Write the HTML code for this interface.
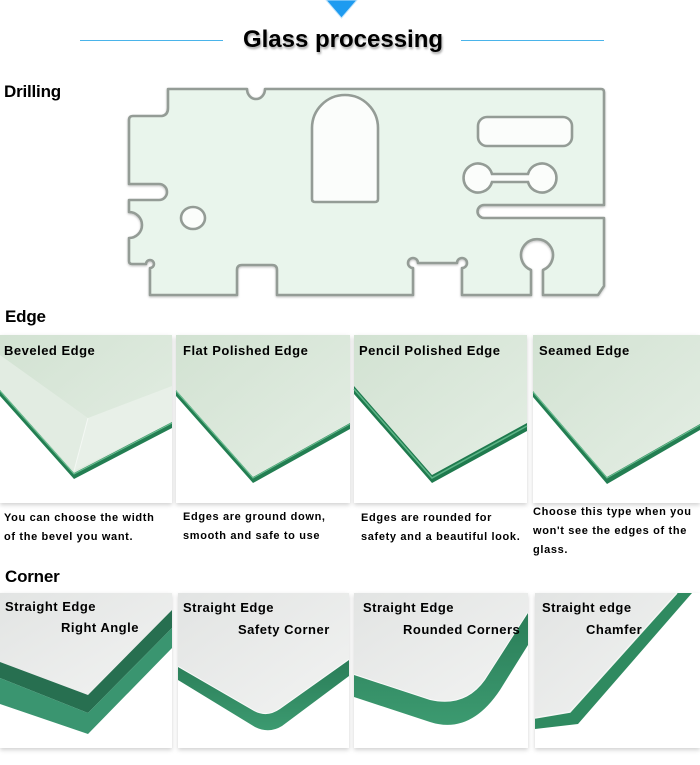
<!DOCTYPE html>
<html><head><meta charset="utf-8"><style>
html,body{margin:0;padding:0;background:#fff;}
body{width:700px;height:765px;position:relative;overflow:hidden;font-family:"Liberation Sans",Arial,sans-serif;}
svg{position:absolute;left:0;top:0;}
.t{position:absolute;white-space:nowrap;color:#000;font-weight:bold;}
.h{font-size:17px;letter-spacing:-0.2px;}
.p{font-size:13px;letter-spacing:0.5px;line-height:13px;}
.d{font-size:11px;letter-spacing:0.65px;line-height:19px;}
</style></head><body>
<svg width="700" height="765" viewBox="0 0 700 765" xmlns="http://www.w3.org/2000/svg">
<defs>
<linearGradient id="eg" x1="0" y1="0" x2="1" y2="1">
<stop offset="0" stop-color="#d2e2d2"/><stop offset="1" stop-color="#e4eee4"/></linearGradient>
<linearGradient id="cg" x1="0" y1="0" x2="1" y2="1">
<stop offset="0" stop-color="#e2e4e3"/><stop offset="1" stop-color="#f2f3f2"/></linearGradient>
<linearGradient id="bd" x1="0" y1="0" x2="0" y2="1">
<stop offset="0" stop-color="#2a7d58"/><stop offset="1" stop-color="#3c9a70"/></linearGradient>
<filter id="sh" x="-5%" y="-5%" width="110%" height="115%"><feDropShadow dx="0" dy="2" stdDeviation="2" flood-color="#000" flood-opacity="0.18"/></filter>
<filter id="ps" x="-5%" y="-5%" width="110%" height="110%"><feDropShadow dx="0" dy="1" stdDeviation="1" flood-color="#000" flood-opacity="0.25"/></filter>
</defs>

<!-- header -->
<polygon points="326,0 357,0 341.5,18" fill="#1e9bf0" stroke="#bfe3fb" stroke-width="1"/>
<line x1="80" y1="40.5" x2="223" y2="40.5" stroke="#4ab4ea" stroke-width="1"/>
<line x1="461" y1="40.5" x2="604" y2="40.5" stroke="#4ab4ea" stroke-width="1"/>

<!-- drilling plate -->
<g filter="url(#ps)">
<path d="M168,89 L247,89 A9 10 0 0 0 265,89 L601,89 Q604,89 604,92 L604,205 L484,205 A6.5 6.5 0 0 0 484,218 L604,218 L604,286 L598,295 L543,295 L543,270 A16 16 0 1 0 531,270 L531,295 L462,295 L462,268 A5 5 0 1 0 457,263 L418,263 A5 5 0 1 0 413,268 L413,295 L277,295 L277,270 Q277,265 272,265 L242,265 Q237,265 237,270 L237,295 L150,295 L150,268 A4 4 0 1 0 146,264 L132,264 Q129,264 129,261 L129,238 A13 13 0 0 0 129,212 L129,200 L159,200 A8 8 0 0 0 159,184 L129,184 L129,120 Q129,116 133,116 L162,116 Q168,115 168,108 Z" fill="#e9f5ec" stroke="#949c96" stroke-width="2.6" stroke-linejoin="round"/>
</g>
<g fill="#fbfdfb" stroke="#949c96" stroke-width="2.6">
<path d="M312,199 L312,128 A33 33 0 0 1 378,128 L378,199 Q378,202 375,202 L315,202 Q312,202 312,199 Z"/>
<rect x="478" y="117" width="94" height="29" rx="9"/>
<path d="M492,174 L528,174 A14.5 14.5 0 1 1 528,182 L492,182 A14.5 14.5 0 1 1 492,174 Z"/>
<ellipse cx="193" cy="218" rx="12" ry="11"/>
</g>

<!-- edge panels -->
<g filter="url(#sh)">
<rect x="0" y="335" width="172" height="168" fill="#fff"/>
<rect x="176" y="335" width="174" height="168" fill="#fff"/>
<rect x="354" y="335" width="173" height="168" fill="#fff"/>
<rect x="533" y="335" width="167" height="168" fill="#fff"/>
</g>
<!-- P1 beveled -->
<polygon points="0,335 172,335 172,422 74,473 0,390" fill="url(#eg)"/>
<polygon points="0,355 88,418 74,471 0,390" fill="#e2ece2"/>
<polygon points="88,418 172,386 172,422 74,471" fill="#e8f0e8"/>
<line x1="88" y1="418" x2="74" y2="471" stroke="#f4f8f4" stroke-width="1"/>
<polygon points="0,390 74,473 172,422 172,428 74,479 0,396" fill="#237e52"/>
<polyline points="0,391 74,474 172,423" fill="none" stroke="#6cc092" stroke-width="1"/>
<!-- P2 flat -->
<polygon points="176,335 350,335 350,423 253,477 176,390" fill="url(#eg)"/>
<polygon points="176,390 253,477 350,423 350,429 253,483 176,396" fill="#237e52"/>
<polyline points="176,391 253,478 350,424" fill="none" stroke="#6cc092" stroke-width="1"/>
<!-- P3 pencil -->
<polygon points="354,335 527,335 527,423 432,475 354,386" fill="url(#eg)"/>
<polygon points="354,386 432,475 527,423 527,431 432,483 354,394" fill="#1f7a4e"/>
<polyline points="354,389 432,478 527,426" fill="none" stroke="#5cb486" stroke-width="1.5"/>
<!-- P4 seamed -->
<polygon points="533,335 700,335 700,424 607,477 533,391" fill="url(#eg)"/>
<polygon points="533,391 607,477 700,424 700,430 607,484 533,397" fill="#237e52"/>
<polyline points="533,392 607,478 700,425" fill="none" stroke="#6cc092" stroke-width="1"/>

<!-- corner panels -->
<g filter="url(#sh)">
<rect x="0" y="593" width="172" height="155" fill="#fff"/>
<rect x="178" y="593" width="171" height="155" fill="#fff"/>
<rect x="354" y="593" width="174" height="155" fill="#fff"/>
<rect x="535" y="593" width="165" height="155" fill="#fff"/>
</g>
<!-- C1 -->
<polygon points="0,593 172,593 172,610 88,695 0,662" fill="url(#cg)"/>
<polygon points="0,662 88,695 172,610 172,628 88,713 0,678" fill="#276f50"/>
<polygon points="0,678 88,713 172,628 172,648 88,734 0,704" fill="#3a9570"/>
<!-- C2 -->
<path d="M178,593 H349 V660 L280,709 Q267,718 254,711 L178,667 Z" fill="url(#cg)"/>
<path d="M178,667 L254,711 Q267,718 280,709 L349,660" fill="none" stroke="#fafafa" stroke-width="2"/>
<path d="M178,667 L254,711 Q267,718 280,709 L349,660 V676 L282,726 Q269,734 255,727 L178,680 Z" fill="url(#bd)"/>
<!-- C3 -->
<path d="M354,593 H528 V613 L485,680 Q465,708 430,700 L354,675 Z" fill="url(#cg)"/>
<path d="M354,675 L430,700 Q465,708 485,680 L528,613" fill="none" stroke="#fafafa" stroke-width="2"/>
<path d="M354,675 L430,700 Q465,708 485,680 L528,613 V645 L500,690 Q470,735 430,722 L354,697 Z" fill="url(#bd)"/>
<!-- C4 -->
<path d="M535,593 H677 L570,712 L535,718 Z" fill="url(#cg)"/>
<path d="M535,718 L570,712 L677,593 L692,593 L578,724 L535,729 Z" fill="#2f8a60"/>
<path d="M535,718 L570,712 L677,593" fill="none" stroke="#f4f6f4" stroke-width="1.5"/>
</svg>

<div class="t" style="left:0;width:686px;top:25px;text-align:center;font-size:24px;line-height:30px;text-shadow:1px 2px 2px rgba(0,0,0,0.35);">Glass processing</div>

<div class="t h" style="left:4px;top:82px;">Drilling</div>
<div class="t h" style="left:5px;top:307px;">Edge</div>
<div class="t h" style="left:5px;top:567px;">Corner</div>

<div class="t p" style="left:4px;top:344px;">Beveled Edge</div>
<div class="t p" style="left:183px;top:344px;">Flat Polished Edge</div>
<div class="t p" style="left:359px;top:344px;">Pencil Polished Edge</div>
<div class="t p" style="left:539px;top:344px;">Seamed Edge</div>

<div class="t d" style="left:4px;top:509px;">You can choose the width<br>of the bevel you want.</div>
<div class="t d" style="left:183px;top:508px;">Edges are ground down,<br>smooth and safe to use</div>
<div class="t d" style="left:361px;top:509px;">Edges are rounded for<br>safety and a beautiful look.</div>
<div class="t d" style="left:533px;top:503px;">Choose this type when you<br>won't see the edges of the<br>glass.</div>

<div class="t p" style="left:5px;top:600px;">Straight Edge</div>
<div class="t p" style="left:61px;top:621px;">Right Angle</div>
<div class="t p" style="left:183px;top:601px;">Straight Edge</div>
<div class="t p" style="left:238px;top:623px;">Safety Corner</div>
<div class="t p" style="left:363px;top:601px;">Straight Edge</div>
<div class="t p" style="left:403px;top:623px;">Rounded Corners</div>
<div class="t p" style="left:542px;top:601px;">Straight edge</div>
<div class="t p" style="left:586px;top:623px;">Chamfer</div>
</body></html>
